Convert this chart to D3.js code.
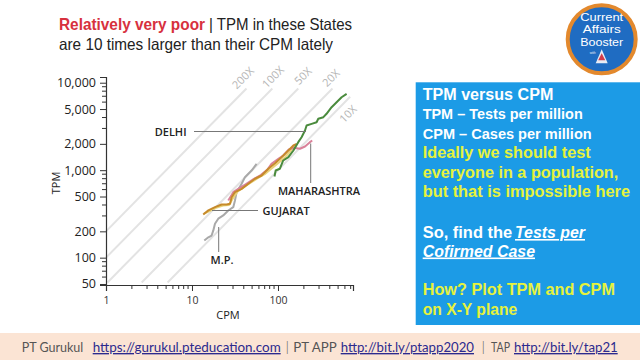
<!DOCTYPE html>
<html><head><meta charset="utf-8">
<script src="https://cdn.jsdelivr.net/npm/d3@7"></script>
<style>
html,body{margin:0;padding:0;background:#fff;}
svg{display:block;}
</style>
</head><body>
<svg id="c" width="640" height="360"></svg>
<script>
// ---- data ----
const ratios = [200, 100, 50, 20, 10];
const ratioLabels = ["200X", "100X", "50X", "20X", "10X"];
const xTickValues = [1, 10, 100];
const yTickValues = [50, 100, 200, 500, 1000, 2000, 5000, 10000];

const delhiCPM = [91, 94, 105, 115, 132, 151, 172, 188, 206, 215, 246, 281, 294, 337, 367, 420, 480, 549, 628];
const delhiTPM = [847, 992, 1038, 1291, 1408, 1679, 2090, 2382, 2843, 3243, 3388, 3538, 3867, 4036, 4413, 5250, 5985, 6825, 7460];

const mahaCPM = [26.4, 30.2, 34.5, 42, 52, 63, 75, 84, 101, 115, 132, 151, 180, 206, 235, 250];
const mahaTPM = [451, 561, 612, 690, 790, 880, 1010, 1183, 1350, 1472, 1710, 1803, 1757, 1866, 2090, 2183];

const gujCPM = [13.5, 15.5, 18.5, 22.1, 25.2, 27.7, 28.9, 31.6, 37.8, 45.2, 54, 64.5, 77, 92.3, 110, 132, 151, 165];
const gujTPM = [312, 347, 378, 405, 405, 413, 491, 561, 612, 700, 798, 869, 1038, 1202, 1408, 1679, 1915, 2003];

const paleCPM = [13.8, 16, 19, 23, 27, 30, 34, 40, 48, 58, 70, 85, 100, 120, 140, 160];
const paleTPM = [318, 340, 372, 395, 400, 480, 570, 640, 720, 810, 900, 1050, 1200, 1400, 1650, 1900];

const mpCPM = [13.9, 15.5, 16.9, 17.7, 18.5, 20.2, 23.1, 26.4, 30.2, 31.6, 33, 37.8, 41.3, 49.3, 56.4];
const mpTPM = [157, 171, 179, 205, 244, 279, 304, 346, 378, 451, 561, 700, 832, 990, 1183];

const seriesNames = ["M.P.", "Pale", "Maharashtra", "Gujarat", "Delhi"];
const seriesColors = ["#a9a9a9", "#e9d37a", "#d9829a", "#c68a2b", "#4a8b3d"];

// ---- drawing ----
const svg = d3.select("#c");
const x = d3.scaleLog().domain([1, 745]).range([106, 353]);
const y = d3.scaleLog().domain([48.7, 11620]).range([285, 77]);

// Title
svg.append("text").attr("x", 59).attr("y", 30).attr("font-family", "Liberation Sans")
  .attr("font-size", 16.5).attr("font-weight", 700).attr("fill", "#d7313e")
  .attr("textLength", 146).attr("lengthAdjust", "spacingAndGlyphs").text("Relatively very poor");
svg.append("text").attr("x", 209).attr("y", 30).attr("font-family", "Liberation Sans")
  .attr("font-size", 16.5).attr("fill", "#222")
  .attr("textLength", 143).attr("lengthAdjust", "spacingAndGlyphs").text("| TPM in these States");
svg.append("text").attr("x", 59).attr("y", 50).attr("font-family", "Liberation Sans")
  .attr("font-size", 16.5).attr("fill", "#222")
  .attr("textLength", 274).attr("lengthAdjust", "spacingAndGlyphs").text("are 10 times larger than their CPM lately");

// reference ratio lines
const yMinLine = 52, yMaxLine = 8600;
const refG = svg.append("g");
ratios.forEach((k, i) => {
  const x0 = Math.max(1, yMinLine / k);
  const x1 = Math.min(690, yMaxLine / k);
  refG.append("line")
    .attr("x1", x(x0)).attr("y1", y(x0 * k))
    .attr("x2", x(x1)).attr("y2", y(x1 * k))
    .attr("stroke", "#e3e3e3").attr("stroke-width", 2);
});
// ratio labels
const labelPos = [[243, 78], [273, 77], [303, 76], [331, 78], [348, 114]];
ratioLabels.forEach((t, i) => {
  svg.append("text")
    .attr("transform", `translate(${labelPos[i][0]},${labelPos[i][1]}) rotate(-45)`)
    .attr("text-anchor", "middle").attr("dy", "0.35em")
    .attr("font-family", "Open Sans").attr("font-size", 11).attr("fill", "#b5b5b5")
    .text(t);
});

// axes
const xAxis = d3.axisBottom(x).tickValues(xTickValues).tickFormat(d3.format("d")).tickSize(6).tickPadding(6);
const gx = svg.append("g").attr("transform", `translate(0,285)`).call(xAxis);
gx.selectAll("text").attr("font-family", "Open Sans").attr("font-size", 10.5).attr("fill", "#333");
gx.select(".domain").attr("stroke", "#333").attr("stroke-width", 1.2);
gx.selectAll(".tick line").attr("stroke", "#333");
// x minor ticks
const xMinor = x.ticks().filter(v => xTickValues.indexOf(v) < 0);
svg.append("g").selectAll("line").data(xMinor).join("line")
  .attr("x1", d => x(d)).attr("x2", d => x(d)).attr("y1", 285).attr("y2", 289)
  .attr("stroke", "#333");

const yAxis = d3.axisLeft(y).tickValues(yTickValues).tickFormat(d3.format(",")).tickSize(6).tickPadding(4);
const gy = svg.append("g").attr("transform", `translate(106,0)`).call(yAxis);
gy.selectAll("text").attr("font-family", "Open Sans").attr("font-size", 12.5).attr("fill", "#222");
gy.select(".domain").attr("stroke", "#333").attr("stroke-width", 1.2);
gy.selectAll(".tick line").attr("stroke", "#333");
const yMinor = y.ticks().filter(v => yTickValues.indexOf(v) < 0);
svg.append("g").selectAll("line").data(yMinor).join("line")
  .attr("x1", 102).attr("x2", 106).attr("y1", d => y(d)).attr("y2", d => y(d))
  .attr("stroke", "#333");

svg.append("text").attr("x", 228).attr("y", 319).attr("text-anchor", "middle")
  .attr("font-family", "Open Sans").attr("font-size", 11).attr("fill", "#222").text("CPM");
svg.append("text").attr("transform", "translate(60,183) rotate(-90)").attr("text-anchor", "middle")
  .attr("font-family", "Open Sans").attr("font-size", 11).attr("fill", "#222").text("TPM");

// series
const allX = [mpCPM, paleCPM, mahaCPM, gujCPM, delhiCPM];
const allY = [mpTPM, paleTPM, mahaTPM, gujTPM, delhiTPM];
const line = d3.line().x(d => x(d[0])).y(d => y(d[1]));
allX.forEach((xs, i) => {
  const pts = xs.map((v, j) => [v, allY[i][j]]);
  svg.append("path").attr("d", line(pts)).attr("fill", "none")
    .attr("stroke", seriesColors[i]).attr("stroke-width", 2).attr("stroke-linejoin", "round")
    .attr("data-name", seriesNames[i]);
});

// annotations
const ann = svg.append("g").attr("font-family", "Open Sans").attr("font-size", 11).attr("fill", "#222").attr("font-weight", 600);
svg.append("line").attr("x1", 194).attr("x2", 306).attr("y1", 131.5).attr("y2", 131.5).attr("stroke", "#777").attr("stroke-width", 1);
ann.append("text").attr("x", 186.5).attr("y", 135.5).attr("text-anchor", "end").text("DELHI");
svg.append("line").attr("x1", 310.7).attr("x2", 310.7).attr("y1", 143.5).attr("y2", 183).attr("stroke", "#777").attr("stroke-width", 1);
ann.append("text").attr("x", 319).attr("y", 195).attr("text-anchor", "middle").text("MAHARASHTRA");
svg.append("line").attr("x1", 212).attr("x2", 258).attr("y1", 210.5).attr("y2", 210.5).attr("stroke", "#777").attr("stroke-width", 1);
ann.append("text").attr("x", 262.5).attr("y", 214.5).text("GUJARAT");
svg.append("line").attr("x1", 218.7).attr("x2", 218.7).attr("y1", 227).attr("y2", 252).attr("stroke", "#777").attr("stroke-width", 1);
ann.append("text").attr("x", 222).attr("y", 264).attr("text-anchor", "middle").text("M.P.");

// right blue box
svg.append("rect").attr("x", 415.7).attr("y", 82.3).attr("width", 640 - 415.7).attr("height", 325 - 82.3).attr("fill", "#1c9be6");
const boxLines = [
  {t: "TPM versus CPM", y: 100, w: 130.6, fs: 16, c: "#fff"},
  {t: "TPM \u2013 Tests per million", y: 119, w: 160, fs: 14, c: "#fff"},
  {t: "CPM \u2013 Cases per million", y: 139, w: 169, fs: 14, c: "#fff"},
  {t: "Ideally we should test", y: 158.3, w: 168, fs: 16, c: "#e6f23c"},
  {t: "everyone in a population,", y: 177.5, w: 195.6, fs: 16, c: "#e6f23c"},
  {t: "but that is impossible here", y: 197, w: 207.3, fs: 16, c: "#e6f23c"},
  {t: "So, find the", y: 238, w: 89.5, fs: 16, c: "#fff"},
  {t: "How? Plot TPM and CPM", y: 295, w: 192.3, fs: 16, c: "#e6f23c"},
  {t: "on X-Y plane", y: 314.5, w: 94.6, fs: 16, c: "#e6f23c"}
];
boxLines.forEach(d => {
  svg.append("text").attr("x", 422.7).attr("y", d.y).attr("font-family", "Liberation Sans")
    .attr("font-weight", 700).attr("font-size", d.fs).attr("fill", d.c)
    .attr("textLength", d.w).attr("lengthAdjust", "spacingAndGlyphs").text(d.t);
});
svg.append("text").attr("x", 515).attr("y", 238).attr("font-family", "Liberation Sans")
  .attr("font-weight", 700).attr("font-style", "italic").attr("font-size", 16).attr("fill", "#fff")
  .attr("text-decoration", "underline")
  .attr("textLength", 70).attr("lengthAdjust", "spacingAndGlyphs").text("Tests per");
svg.append("text").attr("x", 422.7).attr("y", 256.5).attr("font-family", "Liberation Sans")
  .attr("font-weight", 700).attr("font-style", "italic").attr("font-size", 16).attr("fill", "#fff")
  .attr("text-decoration", "underline")
  .attr("textLength", 112.3).attr("lengthAdjust", "spacingAndGlyphs").text("Cofirmed Case");

// logo
const lg = svg.append("g").attr("transform", "translate(601.7,39.3)");
lg.append("circle").attr("r", 34).attr("fill", "#1f6cc2").attr("stroke", "#e3892d").attr("stroke-width", 4);
[["Current", -18.5], ["Affairs", -6], ["Booster", 6.5]].forEach(d => {
  lg.append("text").attr("y", d[1]).attr("text-anchor", "middle").attr("font-family", "Liberation Sans")
    .attr("font-size", 10.5).attr("fill", "#fff")
    .attr("textLength", d[0] === "Current" ? 43 : (d[0] === "Affairs" ? 38 : 43))
    .attr("lengthAdjust", "spacingAndGlyphs").text(d[0]);
});
lg.append("text").attr("x", -12).attr("y", 15).attr("font-family", "Open Sans").attr("font-size", 3).attr("fill", "#fff").text("with");
lg.append("path").attr("d", "M0,10 L6,24 L-6,24 Z").attr("fill", "#e8ecf5");
lg.append("path").attr("d", "M0,14 L3.5,21 L-3.5,21 Z").attr("fill", "#d33b4a");

// footer
svg.append("rect").attr("x", 0).attr("y", 333).attr("width", 640).attr("height", 27).attr("fill", "#fbe4d4");
const foot = [
  {t: "PT Gurukul", x: 21.7, w: 61.6, c: "#555", u: false},
  {t: "https://gurukul.pteducation.com", x: 92.7, w: 188, c: "#2c2a8e", u: true},
  {t: "|", x: 286.3, w: 2, c: "#555", u: false},
  {t: "PT APP", x: 293.3, w: 43.4, c: "#555", u: false},
  {t: "http://bit.ly/ptapp2020", x: 340.7, w: 133.3, c: "#2c2a8e", u: true},
  {t: "|", x: 482.3, w: 2, c: "#555", u: false},
  {t: "TAP", x: 491, w: 19, c: "#555", u: false},
  {t: "http://bit.ly/tap21", x: 514, w: 103.7, c: "#2c2a8e", u: true}
];
foot.forEach(d => {
  svg.append("text").attr("x", d.x).attr("y", 352).attr("font-family", "Lato")
    .attr("font-size", 13.5).attr("fill", d.c)
    .attr("text-decoration", d.u ? "underline" : null)
    .attr("textLength", d.w).attr("lengthAdjust", "spacingAndGlyphs").text(d.t);
});
</script>
</body></html>
